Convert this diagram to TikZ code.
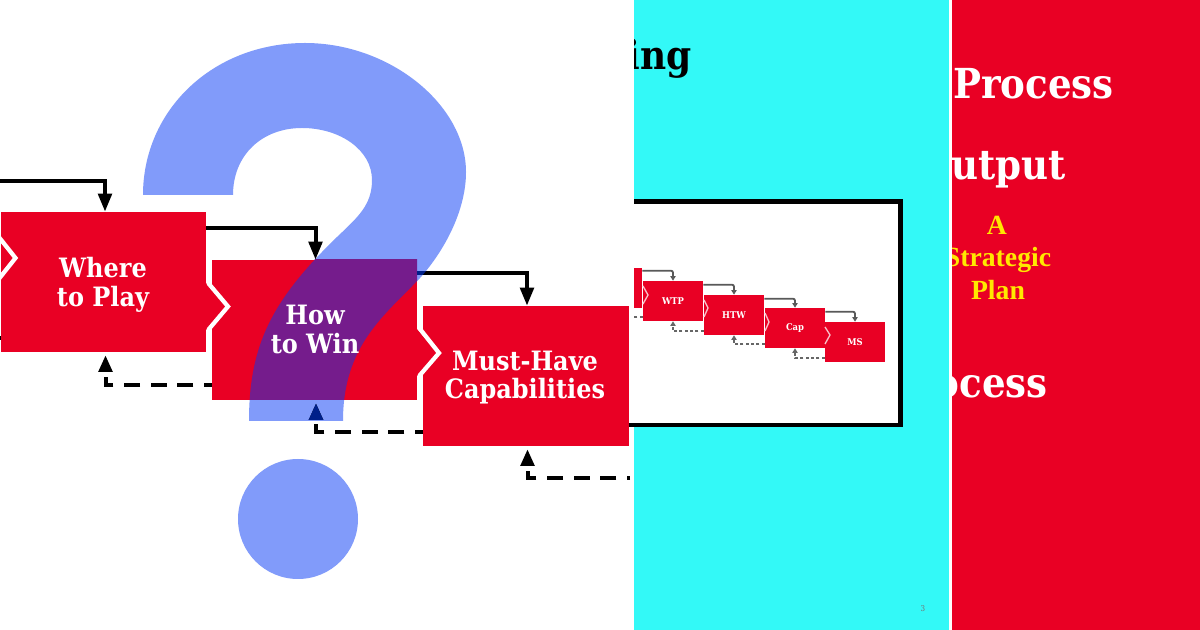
\documentclass[tikz,border=0pt]{standalone}
\usepackage{fontspec}
\setmainfont{DejaVu Serif Condensed}
\newfontfamily\yfont{Liberation Serif}
\usetikzlibrary{arrows.meta,calc}
\definecolor{cRed}{HTML}{E90024}
\definecolor{cCyan}{HTML}{33F9F7}
\definecolor{cBlue}{HTML}{819BFA}
\definecolor{cPurple}{HTML}{751C8C}
\definecolor{cNavy}{HTML}{00208A}
\definecolor{cYellow}{HTML}{FFE800}
\newcommand{\qhook}{(143,195) .. controls (143,110) and (213,43) .. (305,43) .. controls (390,43) and (466,105) .. (466,172) .. controls (466,210) and (445,250) .. (420,278) .. controls (385,315) and (343,345) .. (343,421) -- (249,421) .. controls (249,345) and (272,300) .. (337,237) .. controls (358,217) and (372,205) .. (372,180) .. controls (372,150) and (340,128) .. (302,128) .. controls (262,128) and (233,155) .. (233,195) -- cycle}
\tikzset{
  redbox/.style={fill=cRed,draw=none,inner sep=0pt,minimum width=154pt,minimum height=105pt},
  boxlabel/.style={inner sep=0pt,text=white,align=center,font=\fontsize{20}{21.6}\selectfont\bfseries},
  smallbox/.style={fill=cRed,draw=none,inner sep=0pt,minimum width=45pt,minimum height=30pt,text=white,align=center,font=\fontsize{7}{8}\selectfont\bfseries},
  solidlink/.style={black,line width=3pt,-{Triangle[length=13.5pt,width=10pt]}},
  dashlink/.style={black,line width=3pt,dash pattern=on 12pt off 8pt,dash phase=6pt,-{Triangle[length=12.5pt,width=10pt]},shorten >=2.2pt},
  dashlinkb/.style={black,line width=3pt,dash pattern=on 12pt off 8pt,dash phase=9.75pt,-{Triangle[length=12.5pt,width=10pt]},shorten >=2.2pt},
  navylink/.style={cNavy,line width=3pt,dash pattern=on 12pt off 8pt,dash phase=6pt,-{Triangle[length=12.5pt,width=10pt]},shorten >=2.2pt},
  smallsolid/.style={black!65,line width=1.4pt,rounded corners=1.5pt,-{Triangle[length=3.5pt,width=4pt]}},
  smalldash/.style={black!60,line width=1.4pt,dash pattern=on 2.4pt off 1.6pt,-{Triangle[length=3.5pt,width=4pt]}},
  chev/.style={white,line width=3.2pt,miter limit=10},
  smallchev/.style={white!75!cRed,line width=1pt,miter limit=10},
  headtext/.style={inner sep=0pt,anchor=base east,text=white,font=\fontsize{31}{36}\selectfont\bfseries},
  ylwtext/.style={inner sep=0pt,anchor=base,text=cYellow,font=\fontsize{20.8}{24}\yfont\bfseries},
}
\begin{document}
\begin{tikzpicture}[x=0.75pt,y=-0.75pt]
\useasboundingbox (0,0) rectangle (1200,630);
\fill[white] (0,0) rectangle (634,630);
% panels
\fill[cCyan] (634,0) rectangle (949,630);
\fill[white] (949,0) rectangle (952,630);
\fill[cRed] (952,0) rectangle (1200,630);
% question mark
\fill[cBlue] \qhook;
\fill[cBlue] (298,519) circle[radius=60];
% red boxes
\node[redbox] (htw) at (314.5,330) {};
\node[redbox] (mhc) at (526,376) {};
\node[redbox] (wtp) at (103.5,282) {};
\begin{scope}
  \clip (212,260) rectangle (417,400);
  \fill[cPurple] \qhook;
\end{scope}
\fill[cRed] (206,283) -- (227,306.5) -- (206,330) -- cycle;
\fill[cRed] (417,329) -- (438,353) -- (417,376) -- cycle;
\draw[chev] (209,260) -- (209,284) -- (228,306.5) -- (209,329) -- (209,352);
\draw[chev] (420,306) -- (420,329) -- (439,353) -- (420,375) -- (420,400);
\draw[chev] (-2,236) -- (15.5,258) -- (-2,280);
% box labels
\node[boxlabel] (wtpl) at (103,284.5) {Where\\to Play};
\node[boxlabel] (htwl) at (315,329.5) {How\\to Win};
\node[boxlabel] (mhcl) at (525,377.5) {Must-Have\\Capabilities};
% connectors
\coordinate (in1) at (0,181);
\coordinate (out1) at (206,228);
\coordinate (out2) at (417,273);
\coordinate (back1) at (212,385);
\coordinate (back2) at (423,432);
\coordinate (back3) at (630,478);
\coordinate (wtpN) at ($(wtp.north)+(1.5,0)$);
\coordinate (htwN) at ($(htw.north)+(1,0)$);
\coordinate (mhcN) at ($(mhc.north)+(1,0)$);
\coordinate (wtpS) at ($(wtp.south)+(2,0)$);
\coordinate (htwS) at ($(htw.south)+(1.5,0)$);
\coordinate (mhcS) at ($(mhc.south)+(1.5,0)$);
\draw[solidlink] (in1) -| (wtpN);
\draw[solidlink] (out1) -| (htwN);
\draw[solidlink] (out2) -| (mhcN);
\draw[dashlink] (back1) -| (wtpS);
\draw[dashlink] (back2) -| (htwS);
\draw[dashlinkb] (back3) -| (mhcS);
\draw[black,line width=3pt] (0,338) -- (1,338);
\begin{scope}
  \clip \qhook;
  \draw[navylink] (back2) -| (htwS);
  \draw[cNavy,line width=3pt] (out2) -- ++(15,0);
\end{scope}
% heading fragments
\begin{scope}
  \clip (634,0) rectangle (949,630);
  \node[inner sep=0pt,anchor=base east,text=black,font=\fontsize{30}{36}\selectfont\bfseries] (headA) at (692,70) {ing};
\end{scope}
% inset frame
\fill[white] (634,201) rectangle (900,425);
\draw[black,line width=3.4pt] (634,201.5) -- (900.5,201.5) -- (900.5,425) -- (629,425);
% small boxes
\node[smallbox,minimum width=6pt] (s0) at (638,288) {};
\node[smallbox] (s1) at (673,301) {WTP};
\node[smallbox] (s2) at (734,315) {HTW};
\node[smallbox] (s3) at (795,328) {Cap};
\node[smallbox] (s4) at (855,342) {MS};
\draw[smallchev] (643,286) -- (648,295) -- (643,304);
\draw[smallchev] (704,300) -- (708,308) -- (704,317);
\draw[smallchev] (765,313) -- (769,322) -- (765,331);
\draw[smallchev] (825,327) -- (830,335) -- (825,344);
\draw[smallsolid] ($(s0.north east)+(0,3)$) -| (s1.north);
\draw[smallsolid] ($(s1.north east)+(0,4)$) -| (s2.north);
\draw[smallsolid] ($(s2.north east)+(0,4)$) -| (s3.north);
\draw[smallsolid] ($(s3.north east)+(0,4)$) -| (s4.north);
\draw[smalldash] ($(s2.south west)+(0,-4)$) -| (s1.south);
\draw[smalldash] ($(s3.south west)+(0,-4)$) -| (s2.south);
\draw[smalldash] ($(s4.south west)+(0,-4)$) -| (s3.south);
\coordinate (sdash) at (634,317);
\draw[black!60,line width=1.4pt,dash pattern=on 2.4pt off 1.6pt] (s1.south west |- sdash) -- (sdash);
% page number
\node[inner sep=0pt,text=black!55,font=\fontsize{6}{7}\selectfont] (pg) at (923,609) {3};
% right panel texts
\begin{scope}
  \clip (952,0) rectangle (1200,630);
  \node[headtext] (t1) at (1114,99) {Process};
  \node[headtext] (t2) at (1066,180) {Output};
  \node[headtext] (t3) at (1048,398) {ocess};
  \node[ylwtext] (y1) at (997,235) {A};
  \node[ylwtext] (y2) at (998,267) {Strategic};
  \node[ylwtext] (y3) at (998,300) {Plan};
\end{scope}
\end{tikzpicture}
\end{document}
